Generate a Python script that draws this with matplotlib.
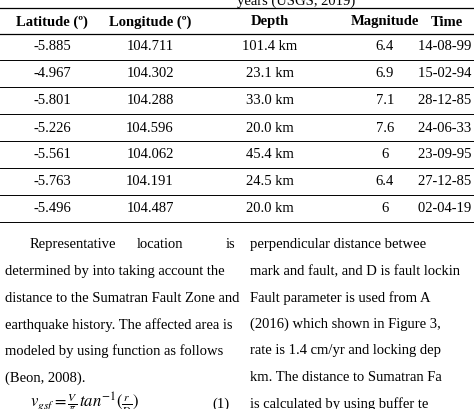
import matplotlib
matplotlib.use("Agg")
import matplotlib.pyplot as plt

headers = ["Latitude (\u00ba)", "Longitude (\u00ba)", "Depth", "Magnitude", "Time"]
latitude = ["-5.885", "-4.967", "-5.801", "-5.226", "-5.561", "-5.763", "-5.496"]
longitude = ["104.711", "104.302", "104.288", "104.596", "104.062", "104.191", "104.487"]
depth = ["101.4 km", "23.1 km", "33.0 km", "20.0 km", "45.4 km", "24.5 km", "20.0 km"]
magnitude = ["6.4", "6.9", "7.1", "7.6", "6", "6.4", "6"]
times = ["14-08-99 0:16", "15-02-94 17:07", "28-12-85 23:10", "24-06-33 21:54",
         "23-09-95 16:05", "27-12-85 5:39", "02-04-19 0:37"]

left_lines = ["determined by into taking account the",
              "distance to the Sumatran Fault Zone and",
              "earthquake history. The affected area is",
              "modeled by using function as follows",
              "(Beon, 2008)."]
right_lines = ["perpendicular distance betwee",
               "mark and fault, and D is fault lockin",
               "Fault parameter is used from A",
               "(2016) which shown in Figure 3,",
               "rate is 1.4 cm/yr and locking dep",
               "km. The distance to Sumatran Fa",
               "is calculated by using buffer te"]

W, H = 474, 410
fig = plt.figure(figsize=(W/100, H/100), dpi=100)
plt.rcParams['font.family'] = ['Liberation Serif', 'DejaVu Serif']
plt.rcParams['mathtext.fontset'] = 'stix'
FS = 10.5

def T(x, y, s, ha="left", **kw):
    fig.text(x/W, 1 - y/H, s, ha=ha, va="center", fontsize=kw.pop("fs", FS), **kw)

def HL(y, lw=0.9):
    fig.add_artist(plt.Line2D([0, 1], [1 - y/H, 1 - y/H], color="black", lw=lw))

T(237, 1, "years (USGS, 2019)")
HL(9)
col_x = [52, 150, 270, 385, 447]
for x, h in zip(col_x, headers):
    T(x, 22, h, ha="center", fontweight="bold")
HL(35)
cols = [latitude, longitude, depth, magnitude]
for i in range(len(latitude)):
    y = 47 + i * 27
    for j, c in enumerate(cols):
        T(col_x[j], y, c[i], ha="center")
    T(418, y, times[i])
    HL(y + 13.5, lw=0.7)

# left column text
T(30, 245, "Representative")
T(160, 245, "location", ha="center")
T(235, 245, "is", ha="right")
for k, s in enumerate(left_lines):
    T(5, 272 + k * 26.5, s)
T(30, 404, r"$v_{gsf} = \frac{V}{\pi}\,tan^{-1}(\frac{r}{D})$", fs=12)
T(212, 404, "(1)")

for k, s in enumerate(right_lines):
    T(250, 245 + k * 26.5, s)

fig.savefig("out.png", dpi=100)
